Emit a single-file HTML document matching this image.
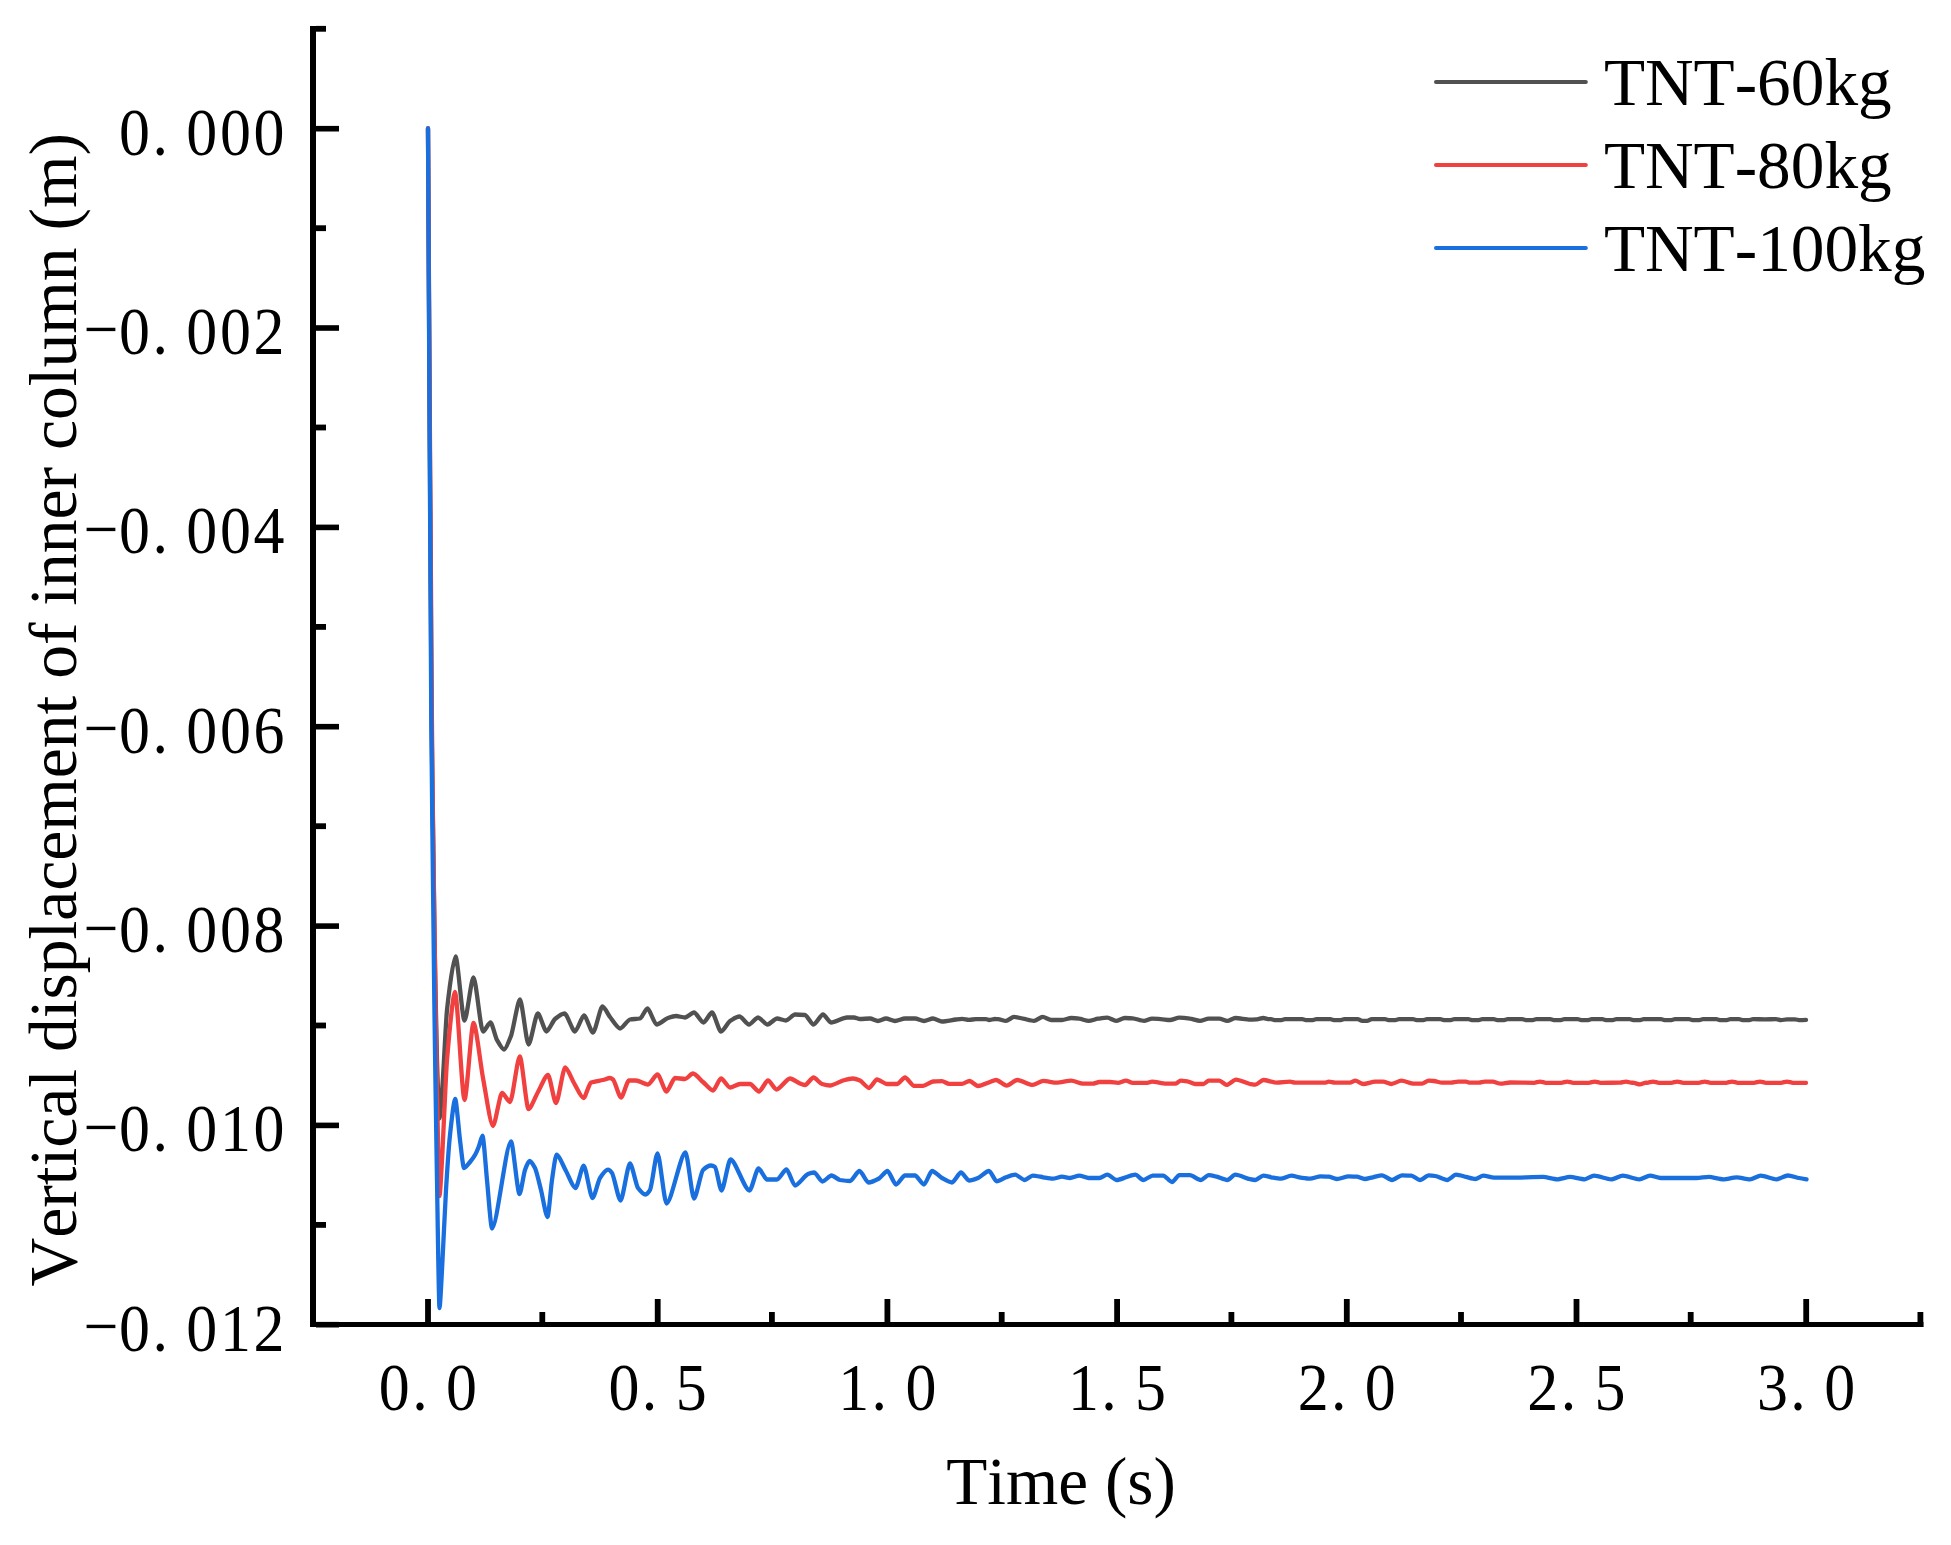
<!DOCTYPE html>
<html lang="en"><head><meta charset="utf-8"><title>Vertical displacement of inner column</title>
<style>
html,body{margin:0;padding:0;background:#fff;}
body{width:1951px;height:1545px;overflow:hidden;}
svg{display:block;}
text{font-family:"Liberation Serif",serif;fill:#000;font-kerning:none;}
.tk{font-size:68px;}
.lb{font-size:68px;}
</style></head><body>
<svg width="1951" height="1545" viewBox="0 0 1951 1545">
<rect width="1951" height="1545" fill="#fff"/>
<g id="curves">
<path d="M428.0 128.5C428.9 276.4 430.7 628.7 431.6 720.0C432.4 796.1 433.9 895.4 434.6 940.0C435.2 975.7 436.4 1040.9 437.0 1060.0C437.6 1079.9 438.9 1118.5 439.5 1118.5C440.2 1118.5 441.8 1095.0 442.5 1085.0C443.6 1070.0 445.9 1020.3 447.0 1010.0C449.1 990.6 453.4 956.5 455.5 956.5C457.8 956.5 462.2 1020.5 464.5 1020.5C466.8 1020.5 471.2 977.5 473.5 977.5C475.9 977.5 480.6 1031.5 483.0 1031.5C484.9 1031.5 488.6 1022.5 490.5 1022.5C492.1 1022.5 495.4 1037.1 497.0 1040.0C498.8 1043.2 502.2 1049.5 504.0 1049.5C505.8 1049.5 509.2 1040.6 511.0 1036.0C513.2 1030.1 517.8 999.5 520.0 999.5C522.1 999.5 526.4 1044.5 528.5 1044.5C530.8 1044.5 535.5 1013.5 537.8 1013.5C540.0 1013.5 544.3 1031.5 546.5 1031.5C548.6 1031.5 552.9 1020.8 555.0 1019.0C557.4 1017.0 562.1 1013.5 564.5 1013.5C567.1 1013.5 572.4 1031.5 575.0 1031.5C577.2 1031.5 581.8 1015.5 584.0 1015.5C586.2 1015.5 590.8 1032.5 593.0 1032.5C595.4 1032.5 600.1 1006.5 602.5 1006.5C604.4 1006.5 608.1 1014.6 610.0 1017.0C612.5 1020.2 617.5 1028.5 620.0 1028.5C622.5 1028.5 627.5 1020.0 630.0 1019.5C632.5 1019.0 637.5 1019.0 640.0 1018.5C641.9 1018.2 645.6 1008.5 647.5 1008.5C649.8 1008.5 654.2 1024.5 656.5 1024.5C659.4 1024.5 665.1 1019.0 668.0 1018.0C670.0 1017.3 674.0 1016.0 676.0 1016.0C678.2 1016.0 682.8 1017.5 685.0 1017.5C687.2 1017.5 691.8 1012.5 694.0 1012.5C696.4 1012.5 701.1 1022.5 703.5 1022.5C705.6 1022.5 709.9 1012.5 712.0 1012.5C714.2 1012.5 718.8 1031.5 721.0 1031.5C723.2 1031.5 727.8 1022.5 730.0 1021.0C732.4 1019.4 737.1 1016.5 739.5 1016.5C741.9 1016.5 746.6 1024.5 749.0 1024.5C751.2 1024.5 755.8 1017.5 758.0 1017.5C760.4 1017.5 765.1 1024.5 767.5 1024.5C769.9 1024.5 774.6 1018.5 777.0 1018.5C779.2 1018.5 783.8 1020.5 786.0 1020.5C788.2 1020.5 792.8 1014.5 795.0 1014.5C797.5 1014.5 802.5 1014.8 805.0 1015.0C807.1 1015.2 811.4 1024.5 813.5 1024.5C815.9 1024.5 820.6 1014.5 823.0 1014.5C825.0 1014.5 829.0 1022.5 831.0 1022.5C835.0 1022.5 843.0 1017.5 847.0 1017.5C848.8 1017.5 852.2 1017.5 854.0 1017.5C855.5 1017.5 858.5 1019.0 860.0 1019.0C862.5 1019.0 867.5 1018.5 870.0 1018.5C872.0 1018.5 876.0 1021.0 878.0 1021.0C880.0 1021.0 884.0 1018.5 886.0 1018.5C888.2 1018.5 892.8 1021.0 895.0 1021.0C897.5 1021.0 902.5 1018.5 905.0 1018.5C907.5 1018.5 912.5 1018.5 915.0 1018.5C917.2 1018.5 921.8 1021.0 924.0 1021.0C926.2 1021.0 930.8 1018.5 933.0 1018.5C935.2 1018.5 939.8 1021.5 942.0 1021.5C945.5 1021.5 952.5 1019.9 956.0 1019.5C957.5 1019.3 960.5 1018.8 962.0 1018.8C963.8 1018.8 967.2 1019.8 969.0 1019.8C970.8 1019.8 974.2 1019.2 976.0 1019.2C978.5 1019.2 983.5 1019.2 986.0 1019.2C986.8 1019.2 988.2 1020.0 989.0 1020.0C990.5 1020.0 993.5 1019.0 995.0 1019.0C995.8 1019.0 997.2 1019.1 998.0 1019.1C1000.0 1019.2 1004.0 1020.9 1006.0 1020.9C1008.0 1020.9 1012.0 1016.9 1014.0 1016.9C1016.3 1016.9 1021.0 1018.2 1023.3 1018.7C1026.0 1019.2 1031.3 1020.9 1034.0 1020.9C1036.2 1020.9 1040.5 1016.9 1042.7 1016.9C1044.8 1016.9 1049.2 1020.0 1051.3 1020.0C1054.0 1020.0 1059.3 1020.0 1062.0 1020.0C1064.3 1020.0 1069.0 1018.0 1071.3 1018.0C1073.3 1018.0 1077.3 1018.4 1079.3 1018.7C1081.7 1019.0 1086.3 1020.9 1088.7 1020.9C1091.0 1020.9 1095.7 1019.0 1098.0 1018.7C1100.3 1018.4 1105.0 1017.7 1107.3 1017.7C1109.5 1017.7 1113.8 1020.9 1116.0 1020.9C1118.2 1020.9 1122.5 1018.0 1124.7 1018.0C1126.7 1018.0 1130.7 1018.2 1132.7 1018.3C1135.5 1018.5 1141.2 1020.9 1144.0 1020.9C1146.0 1020.9 1150.0 1018.7 1152.0 1018.7C1154.2 1018.7 1158.5 1019.0 1160.7 1019.1C1163.0 1019.2 1167.7 1020.0 1170.0 1020.0C1172.3 1020.0 1177.0 1017.7 1179.3 1017.7C1182.0 1017.7 1187.3 1018.3 1190.0 1018.7C1192.5 1019.0 1197.5 1020.9 1200.0 1020.9C1202.2 1020.9 1206.5 1018.7 1208.7 1018.7C1211.3 1018.7 1216.7 1018.7 1219.3 1018.7C1221.3 1018.7 1225.3 1020.9 1227.3 1020.9C1229.3 1020.9 1233.3 1018.0 1235.3 1018.0C1239.0 1018.0 1246.3 1019.6 1250.0 1019.6C1251.8 1019.6 1255.2 1019.4 1257.0 1019.3C1258.6 1019.2 1261.7 1018.0 1263.3 1018.0C1264.7 1018.0 1267.6 1019.2 1269.0 1019.2C1269.5 1019.2 1270.5 1019.2 1271.0 1019.2C1272.1 1019.2 1274.4 1020.2 1275.5 1020.2C1276.8 1020.2 1279.2 1020.2 1280.5 1020.2C1281.6 1020.2 1283.9 1019.2 1285.0 1019.2C1289.3 1019.2 1298.0 1019.2 1302.3 1019.2C1303.4 1019.2 1305.7 1020.2 1306.8 1020.2C1308.0 1020.2 1310.5 1020.2 1311.8 1020.2C1312.9 1020.2 1315.2 1019.2 1316.3 1019.2C1319.8 1019.2 1326.8 1019.2 1330.3 1019.2C1331.4 1019.2 1333.7 1020.2 1334.8 1020.2C1336.0 1020.2 1338.5 1020.2 1339.8 1020.2C1340.9 1020.2 1343.2 1019.2 1344.3 1019.2C1347.7 1019.2 1354.3 1019.2 1357.7 1019.2C1358.8 1019.2 1361.1 1020.8 1362.2 1020.8C1363.5 1020.8 1366.0 1020.8 1367.2 1020.8C1368.3 1020.8 1370.6 1019.2 1371.7 1019.2C1375.0 1019.2 1381.7 1019.2 1385.0 1019.2C1386.1 1019.2 1388.4 1020.2 1389.5 1020.2C1390.8 1020.2 1393.2 1020.2 1394.5 1020.2C1395.6 1020.2 1397.9 1019.2 1399.0 1019.2C1402.5 1019.2 1409.5 1019.2 1413.0 1019.2C1414.1 1019.2 1416.4 1020.2 1417.5 1020.2C1418.8 1020.2 1421.2 1020.2 1422.5 1020.2C1423.6 1020.2 1425.9 1019.2 1427.0 1019.2C1430.3 1019.2 1437.0 1019.2 1440.3 1019.2C1441.4 1019.2 1443.7 1020.2 1444.8 1020.2C1446.0 1020.2 1448.5 1020.2 1449.8 1020.2C1450.9 1020.2 1453.2 1019.2 1454.3 1019.2C1457.8 1019.2 1464.8 1019.2 1468.3 1019.2C1469.4 1019.2 1471.7 1020.2 1472.8 1020.2C1474.0 1020.2 1476.5 1020.2 1477.8 1020.2C1478.9 1020.2 1481.2 1019.2 1482.3 1019.2C1485.2 1019.2 1490.8 1019.2 1493.7 1019.2C1494.8 1019.2 1497.1 1020.2 1498.2 1020.2C1499.5 1020.2 1502.0 1020.2 1503.2 1020.2C1504.3 1020.2 1506.6 1019.2 1507.7 1019.2C1511.3 1019.2 1518.7 1019.2 1522.3 1019.2C1523.4 1019.2 1525.7 1020.2 1526.8 1020.2C1528.0 1020.2 1530.5 1020.2 1531.8 1020.2C1532.9 1020.2 1535.2 1019.2 1536.3 1019.2C1539.8 1019.2 1546.8 1019.2 1550.3 1019.2C1551.4 1019.2 1553.7 1020.2 1554.8 1020.2C1556.0 1020.2 1558.5 1020.2 1559.8 1020.2C1560.9 1020.2 1563.2 1019.2 1564.3 1019.2C1567.7 1019.2 1574.3 1019.2 1577.7 1019.2C1578.8 1019.2 1581.1 1020.2 1582.2 1020.2C1583.5 1020.2 1586.0 1020.2 1587.2 1020.2C1588.3 1020.2 1590.6 1019.2 1591.7 1019.2C1594.3 1019.2 1599.7 1019.2 1602.3 1019.2C1603.4 1019.2 1605.7 1020.2 1606.8 1020.2C1608.0 1020.2 1610.5 1020.2 1611.8 1020.2C1612.9 1020.2 1615.2 1019.2 1616.3 1019.2C1619.7 1019.2 1626.3 1019.2 1629.7 1019.2C1630.8 1019.2 1633.1 1020.2 1634.2 1020.2C1635.5 1020.2 1638.0 1020.2 1639.2 1020.2C1640.3 1020.2 1642.6 1019.2 1643.7 1019.2C1648.0 1019.2 1656.7 1019.2 1661.0 1019.2C1662.1 1019.2 1664.4 1020.2 1665.5 1020.2C1666.8 1020.2 1669.2 1020.2 1670.5 1020.2C1671.6 1020.2 1673.9 1019.2 1675.0 1019.2C1678.5 1019.2 1685.5 1019.2 1689.0 1019.2C1690.1 1019.2 1692.4 1020.2 1693.5 1020.2C1694.8 1020.2 1697.2 1020.2 1698.5 1020.2C1699.6 1020.2 1701.9 1019.2 1703.0 1019.2C1706.3 1019.2 1713.0 1019.2 1716.3 1019.2C1717.4 1019.2 1719.7 1020.2 1720.8 1020.2C1722.0 1020.2 1724.5 1020.2 1725.8 1020.2C1726.9 1020.2 1729.2 1019.2 1730.3 1019.2C1732.5 1019.2 1736.8 1019.2 1739.0 1019.2C1740.1 1019.2 1742.4 1020.2 1743.5 1020.2C1744.8 1020.2 1747.2 1020.2 1748.5 1020.2C1749.6 1020.2 1751.9 1019.2 1753.0 1019.2C1756.0 1019.2 1762.0 1019.3 1765.0 1019.3C1767.8 1019.3 1773.2 1019.2 1776.0 1019.2C1777.2 1019.2 1779.8 1020.2 1781.0 1020.2C1782.5 1020.2 1785.5 1019.3 1787.0 1019.3C1789.0 1019.3 1793.0 1019.3 1795.0 1019.3C1796.2 1019.3 1798.8 1020.2 1800.0 1020.2C1801.5 1020.2 1804.5 1020.0 1806.0 1019.9" fill="none" stroke="#515151" stroke-width="4.3" stroke-linejoin="round" stroke-linecap="round"/>
<path d="M428.0 128.5C429.0 276.4 430.9 617.9 431.9 720.0C432.6 798.6 434.1 908.1 434.9 960.0C435.5 999.8 436.6 1071.5 437.2 1100.0C437.8 1128.5 438.9 1196.0 439.5 1196.0C440.1 1196.0 441.4 1170.5 442.0 1160.0C443.2 1139.1 445.8 1074.9 447.0 1060.0C449.0 1036.1 453.0 992.0 455.0 992.0C457.4 992.0 462.1 1100.0 464.5 1100.0C466.8 1100.0 471.2 1023.0 473.5 1023.0C475.9 1023.0 480.6 1065.5 483.0 1078.0C485.5 1091.1 490.5 1126.0 493.0 1126.0C495.2 1126.0 499.8 1093.0 502.0 1093.0C504.0 1093.0 508.0 1102.0 510.0 1102.0C512.5 1102.0 517.3 1056.5 519.8 1056.5C522.0 1056.5 526.3 1109.0 528.5 1109.0C530.9 1109.0 535.6 1096.1 538.0 1092.0C540.5 1087.6 545.5 1075.0 548.0 1075.0C550.0 1075.0 554.0 1103.0 556.0 1103.0C558.3 1103.0 562.9 1067.5 565.2 1067.5C567.4 1067.5 571.8 1079.3 574.0 1083.0C576.4 1087.0 581.1 1098.0 583.5 1098.0C585.4 1098.0 589.1 1083.2 591.0 1082.5C594.0 1081.4 600.0 1080.7 603.0 1080.0C604.8 1079.6 608.2 1078.0 610.0 1078.0C610.8 1078.0 612.2 1078.9 613.0 1079.5C615.0 1081.1 619.0 1097.5 621.0 1097.5C623.0 1097.5 627.0 1080.5 629.0 1080.5C630.8 1080.5 634.2 1080.5 636.0 1080.5C639.0 1080.5 645.0 1084.5 648.0 1084.5C650.4 1084.5 655.1 1074.5 657.5 1074.5C659.8 1074.5 664.2 1091.5 666.5 1091.5C668.6 1091.5 672.9 1078.0 675.0 1078.0C677.5 1078.0 682.5 1079.0 685.0 1079.0C687.0 1079.0 691.0 1073.5 693.0 1073.5C695.5 1073.5 700.5 1079.9 703.0 1082.0C705.5 1084.1 710.5 1090.5 713.0 1090.5C715.0 1090.5 719.0 1078.5 721.0 1078.5C723.2 1078.5 727.8 1087.5 730.0 1087.5C732.5 1087.5 737.5 1084.0 740.0 1084.0C742.5 1084.0 747.5 1084.0 750.0 1084.0C752.2 1084.0 756.8 1091.5 759.0 1091.5C761.2 1091.5 765.8 1080.5 768.0 1080.5C770.1 1080.5 774.4 1089.5 776.5 1089.5C779.9 1089.5 786.6 1078.5 790.0 1078.5C792.5 1078.5 797.5 1082.6 800.0 1083.5C801.2 1084.0 803.8 1085.0 805.0 1085.0C807.1 1085.0 811.4 1077.5 813.5 1077.5C815.6 1077.5 819.9 1083.4 822.0 1084.0C824.0 1084.6 828.0 1085.5 830.0 1085.5C833.2 1085.5 839.8 1081.4 843.0 1080.5C845.5 1079.8 850.5 1078.5 853.0 1078.5C854.8 1078.5 858.2 1079.8 860.0 1080.5C862.2 1081.5 866.8 1088.0 869.0 1088.0C871.0 1088.0 875.0 1079.5 877.0 1079.5C879.5 1079.5 884.5 1084.0 887.0 1084.0C889.5 1084.0 894.5 1084.0 897.0 1084.0C899.0 1084.0 903.0 1077.5 905.0 1077.5C907.2 1077.5 911.8 1085.8 914.0 1085.8C916.2 1085.8 920.8 1085.8 923.0 1085.8C925.5 1085.8 930.5 1081.7 933.0 1081.5C935.2 1081.4 939.8 1081.2 942.0 1081.2C943.8 1081.2 947.2 1083.8 949.0 1083.8C952.2 1083.8 958.8 1083.8 962.0 1083.8C963.9 1083.8 967.6 1081.0 969.5 1081.0C971.6 1081.0 975.9 1086.0 978.0 1086.0C981.0 1086.0 987.0 1083.0 990.0 1082.0C991.5 1081.5 994.5 1080.0 996.0 1080.0C998.7 1080.0 1004.0 1085.7 1006.7 1085.7C1009.4 1085.7 1014.6 1080.0 1017.3 1080.0C1021.1 1080.0 1028.8 1084.9 1032.7 1084.9C1035.3 1084.9 1040.7 1080.9 1043.3 1080.9C1046.7 1080.9 1053.3 1082.7 1056.7 1082.7C1060.3 1082.7 1067.7 1080.7 1071.3 1080.7C1074.3 1080.7 1080.3 1083.7 1083.3 1083.7C1085.7 1083.7 1090.3 1083.7 1092.7 1083.7C1094.3 1083.7 1097.7 1082.0 1099.3 1082.0C1102.0 1082.0 1107.3 1082.0 1110.0 1082.0C1112.0 1082.0 1116.0 1082.9 1118.0 1082.9C1120.0 1082.9 1124.0 1080.7 1126.0 1080.7C1127.7 1080.7 1131.0 1082.9 1132.7 1082.9C1136.3 1082.9 1143.7 1082.9 1147.3 1082.9C1148.5 1082.9 1150.8 1081.7 1152.0 1081.7C1155.5 1081.7 1162.5 1083.7 1166.0 1083.7C1168.3 1083.7 1173.0 1083.7 1175.3 1083.7C1176.7 1083.7 1179.3 1080.7 1180.7 1080.7C1182.3 1080.7 1185.7 1081.1 1187.3 1081.3C1189.3 1081.6 1193.3 1084.0 1195.3 1084.0C1197.3 1084.0 1201.3 1084.0 1203.3 1084.0C1204.7 1084.0 1207.3 1080.7 1208.7 1080.7C1211.3 1080.7 1216.7 1080.7 1219.3 1080.7C1221.2 1080.7 1224.8 1084.9 1226.7 1084.9C1229.0 1084.9 1233.7 1079.6 1236.0 1079.6C1239.5 1079.6 1246.5 1083.3 1250.0 1084.0C1251.3 1084.2 1254.0 1084.7 1255.3 1084.7C1257.3 1084.7 1261.3 1080.0 1263.3 1080.0C1266.7 1080.0 1273.3 1082.7 1276.7 1082.7C1280.0 1082.7 1286.7 1081.7 1290.0 1081.7C1291.2 1081.7 1293.8 1082.7 1295.0 1082.7C1302.4 1082.7 1317.3 1082.7 1324.7 1082.7C1325.7 1082.7 1327.7 1081.7 1328.7 1081.7C1330.3 1081.7 1333.4 1082.7 1335.0 1082.7C1338.8 1082.7 1346.2 1082.7 1350.0 1082.7C1351.3 1082.7 1354.0 1080.7 1355.3 1080.7C1357.3 1080.7 1361.3 1084.0 1363.3 1084.0C1366.3 1084.0 1372.3 1081.7 1375.3 1081.7C1377.2 1081.7 1381.1 1081.7 1383.0 1081.7C1385.1 1081.7 1389.2 1084.0 1391.3 1084.0C1393.8 1084.0 1398.8 1080.7 1401.3 1080.7C1404.5 1080.7 1410.8 1083.7 1414.0 1083.7C1416.0 1083.7 1420.0 1083.7 1422.0 1083.7C1423.7 1083.7 1427.0 1080.7 1428.7 1080.7C1430.0 1080.7 1432.7 1080.9 1434.0 1081.0C1436.0 1081.2 1440.0 1082.7 1442.0 1082.7C1444.2 1082.7 1448.8 1082.7 1451.0 1082.7C1452.8 1082.7 1456.2 1081.7 1458.0 1081.7C1460.0 1081.7 1464.0 1081.7 1466.0 1081.7C1467.0 1081.7 1469.0 1082.7 1470.0 1082.7C1472.2 1082.7 1476.8 1082.7 1479.0 1082.7C1480.4 1082.7 1483.3 1081.7 1484.7 1081.7C1486.7 1081.7 1490.7 1081.7 1492.7 1081.7C1494.7 1081.7 1498.7 1083.7 1500.7 1083.7C1503.0 1083.7 1507.7 1082.5 1510.0 1082.5C1516.0 1082.5 1528.0 1082.8 1534.0 1082.8C1535.5 1082.8 1538.5 1081.6 1540.0 1081.6C1541.5 1081.6 1544.5 1082.8 1546.0 1082.8C1549.8 1082.8 1557.5 1082.8 1561.3 1082.8C1562.8 1082.8 1565.8 1081.6 1567.3 1081.6C1568.8 1081.6 1571.8 1082.8 1573.3 1082.8C1577.2 1082.8 1584.8 1082.8 1588.7 1082.8C1590.2 1082.8 1593.2 1081.6 1594.7 1081.6C1596.2 1081.6 1599.2 1082.8 1600.7 1082.8C1605.5 1082.8 1615.2 1082.7 1620.0 1082.6C1621.5 1082.6 1624.5 1081.6 1626.0 1081.6C1627.2 1081.6 1629.8 1082.4 1631.0 1082.6C1631.8 1082.7 1633.2 1082.8 1634.0 1082.9C1635.5 1083.1 1638.5 1084.4 1640.0 1084.4C1641.5 1084.4 1644.5 1082.7 1646.0 1082.7C1646.2 1082.7 1646.8 1082.8 1647.0 1082.8C1648.5 1082.8 1651.5 1081.6 1653.0 1081.6C1654.5 1081.6 1657.5 1082.8 1659.0 1082.8C1662.1 1082.8 1668.2 1082.8 1671.3 1082.8C1672.8 1082.8 1675.8 1081.6 1677.3 1081.6C1678.8 1081.6 1681.8 1082.8 1683.3 1082.8C1687.2 1082.8 1694.8 1082.8 1698.7 1082.8C1700.2 1082.8 1703.2 1081.6 1704.7 1081.6C1706.2 1081.6 1709.2 1082.8 1710.7 1082.8C1714.5 1082.8 1722.2 1082.8 1726.0 1082.8C1727.5 1082.8 1730.5 1081.6 1732.0 1081.6C1733.5 1081.6 1736.5 1082.8 1738.0 1082.8C1742.0 1082.8 1750.0 1082.8 1754.0 1082.8C1755.5 1082.8 1758.5 1081.6 1760.0 1081.6C1761.5 1081.6 1764.5 1082.8 1766.0 1082.8C1769.8 1082.8 1777.2 1082.8 1781.0 1082.8C1782.5 1082.8 1785.5 1081.6 1787.0 1081.6C1788.5 1081.6 1791.5 1082.8 1793.0 1082.8C1794.8 1082.8 1798.2 1082.9 1800.0 1082.9C1801.5 1082.9 1804.5 1082.9 1806.0 1082.9" fill="none" stroke="#F14040" stroke-width="4.3" stroke-linejoin="round" stroke-linecap="round"/>
<path d="M428.0 128.5C428.8 276.4 430.5 618.7 431.3 720.0C432.1 812.1 433.6 941.7 434.3 1000.0C435.0 1052.5 436.3 1140.9 437.0 1180.0C437.6 1216.2 438.9 1308.0 439.5 1308.0C440.1 1308.0 441.4 1280.8 442.0 1270.0C443.0 1252.7 445.0 1206.3 446.0 1190.0C447.0 1173.7 449.0 1144.2 450.0 1135.0C451.3 1123.0 453.9 1099.0 455.2 1099.0C456.4 1099.0 458.8 1130.8 460.0 1140.0C461.0 1147.7 463.0 1168.0 464.0 1168.0C465.5 1168.0 468.5 1163.8 470.0 1162.0C471.2 1160.5 473.8 1157.2 475.0 1155.0C476.0 1153.3 478.0 1148.6 479.0 1146.0C479.9 1143.8 481.6 1135.7 482.5 1135.7C483.6 1135.7 485.9 1169.0 487.0 1180.0C488.2 1192.2 490.8 1228.5 492.0 1228.5C496.8 1228.5 506.2 1141.5 511.0 1141.5C513.1 1141.5 517.4 1194.0 519.5 1194.0C520.9 1194.0 523.6 1173.8 525.0 1170.0C526.1 1166.9 528.4 1161.0 529.5 1161.0C530.9 1161.0 533.6 1165.4 535.0 1168.0C536.5 1170.8 539.5 1184.2 541.0 1190.0C542.6 1196.3 545.9 1217.0 547.5 1217.0C548.6 1217.0 550.9 1187.5 552.0 1180.0C553.1 1172.5 555.4 1154.7 556.5 1154.7C558.9 1154.7 563.6 1166.8 566.0 1171.0C568.4 1175.2 573.1 1188.0 575.5 1188.0C577.5 1188.0 581.7 1165.7 583.7 1165.7C585.9 1165.7 590.3 1198.0 592.5 1198.0C594.4 1198.0 598.1 1180.8 600.0 1178.0C602.0 1175.0 606.0 1169.7 608.0 1169.7C609.0 1169.7 611.0 1171.7 612.0 1173.0C614.1 1175.8 618.4 1200.5 620.5 1200.5C622.9 1200.5 627.6 1163.5 630.0 1163.5C632.0 1163.5 636.0 1185.3 638.0 1188.0C639.9 1190.5 643.6 1194.5 645.5 1194.5C646.6 1194.5 648.9 1191.9 650.0 1190.0C651.9 1186.9 655.6 1153.5 657.5 1153.5C659.8 1153.5 664.2 1203.5 666.5 1203.5C671.2 1203.5 680.8 1152.5 685.5 1152.5C687.6 1152.5 691.9 1198.5 694.0 1198.5C696.2 1198.5 700.8 1172.1 703.0 1170.0C705.0 1168.1 709.0 1165.5 711.0 1165.5C712.0 1165.5 714.0 1166.3 715.0 1167.0C716.6 1168.1 719.9 1190.5 721.5 1190.5C723.8 1190.5 728.2 1159.5 730.5 1159.5C735.2 1159.5 744.8 1190.5 749.5 1190.5C751.8 1190.5 756.2 1168.5 758.5 1168.5C760.6 1168.5 764.9 1179.5 767.0 1179.5C769.5 1179.5 774.5 1179.5 777.0 1179.5C779.4 1179.5 784.1 1169.5 786.5 1169.5C788.6 1169.5 792.9 1185.5 795.0 1185.5C798.2 1185.5 804.8 1175.3 808.0 1174.0C809.5 1173.4 812.5 1172.5 814.0 1172.5C816.1 1172.5 820.4 1181.5 822.5 1181.5C824.8 1181.5 829.2 1175.5 831.5 1175.5C833.6 1175.5 837.9 1179.6 840.0 1180.0C842.5 1180.4 847.5 1181.0 850.0 1181.0C852.4 1181.0 857.1 1171.0 859.5 1171.0C861.8 1171.0 866.2 1182.5 868.5 1182.5C871.1 1182.5 876.4 1179.9 879.0 1178.5C881.1 1177.4 885.4 1171.0 887.5 1171.0C889.6 1171.0 893.9 1184.5 896.0 1184.5C898.2 1184.5 902.8 1175.5 905.0 1175.5C907.5 1175.5 912.5 1175.5 915.0 1175.5C917.2 1175.5 921.8 1184.5 924.0 1184.5C926.0 1184.5 930.0 1171.0 932.0 1171.0C934.5 1171.0 939.5 1176.6 942.0 1178.0C944.5 1179.4 949.5 1182.5 952.0 1182.5C954.2 1182.5 958.8 1172.5 961.0 1172.5C963.0 1172.5 967.0 1180.5 969.0 1180.5C971.2 1180.5 975.8 1178.9 978.0 1178.0C980.8 1176.9 986.2 1171.0 989.0 1171.0C990.9 1171.0 994.8 1181.3 996.7 1181.3C999.0 1181.3 1003.7 1178.1 1006.0 1177.3C1008.3 1176.5 1013.0 1174.7 1015.3 1174.7C1017.6 1174.7 1022.4 1180.0 1024.7 1180.0C1026.7 1180.0 1030.7 1175.6 1032.7 1175.6C1035.3 1175.6 1040.7 1176.9 1043.3 1177.3C1045.7 1177.7 1050.3 1178.7 1052.7 1178.7C1055.0 1178.7 1059.7 1176.7 1062.0 1176.7C1064.0 1176.7 1068.0 1178.0 1070.0 1178.0C1072.3 1178.0 1077.0 1175.6 1079.3 1175.6C1081.7 1175.6 1086.3 1178.0 1088.7 1178.0C1091.3 1178.0 1096.7 1178.0 1099.3 1178.0C1101.3 1178.0 1105.3 1174.7 1107.3 1174.7C1109.7 1174.7 1114.3 1180.0 1116.7 1180.0C1119.0 1180.0 1123.7 1178.0 1126.0 1177.3C1128.3 1176.6 1133.0 1174.7 1135.3 1174.7C1137.3 1174.7 1141.3 1180.0 1143.3 1180.0C1145.7 1180.0 1150.3 1175.6 1152.7 1175.6C1155.3 1175.6 1160.7 1175.6 1163.3 1175.6C1165.5 1175.6 1169.8 1182.0 1172.0 1182.0C1173.8 1182.0 1177.5 1175.1 1179.3 1175.1C1182.0 1175.1 1187.3 1175.1 1190.0 1175.1C1192.7 1175.1 1198.0 1180.0 1200.7 1180.0C1202.7 1180.0 1206.7 1175.1 1208.7 1175.1C1210.7 1175.1 1214.7 1176.2 1216.7 1176.7C1219.3 1177.3 1224.7 1180.0 1227.3 1180.0C1229.3 1180.0 1233.3 1174.7 1235.3 1174.7C1239.0 1174.7 1246.3 1178.5 1250.0 1179.2C1251.3 1179.5 1254.0 1180.0 1255.3 1180.0C1257.3 1180.0 1261.3 1175.6 1263.3 1175.6C1265.3 1175.6 1269.3 1176.9 1271.3 1177.3C1273.7 1177.7 1278.3 1178.7 1280.7 1178.7C1283.3 1178.7 1288.7 1175.6 1291.3 1175.6C1293.7 1175.6 1298.3 1177.4 1300.7 1177.7C1303.0 1178.0 1307.7 1178.7 1310.0 1178.7C1312.7 1178.7 1318.0 1176.4 1320.7 1176.4C1322.7 1176.4 1326.7 1176.6 1328.7 1176.7C1330.7 1176.8 1334.7 1179.0 1336.7 1179.0C1339.7 1179.0 1345.7 1176.4 1348.7 1176.4C1350.7 1176.4 1354.7 1176.6 1356.7 1176.7C1358.7 1176.8 1362.7 1179.0 1364.7 1179.0C1366.7 1179.0 1370.7 1177.7 1372.7 1177.3C1375.0 1176.8 1379.7 1175.3 1382.0 1175.3C1384.5 1175.3 1389.5 1180.0 1392.0 1180.0C1394.5 1180.0 1399.5 1175.3 1402.0 1175.3C1404.3 1175.3 1409.0 1175.5 1411.3 1175.6C1413.5 1175.7 1417.8 1180.0 1420.0 1180.0C1422.2 1180.0 1426.5 1175.3 1428.7 1175.3C1430.3 1175.3 1433.7 1175.7 1435.3 1176.0C1438.3 1176.5 1444.3 1180.0 1447.3 1180.0C1449.5 1180.0 1453.8 1174.7 1456.0 1174.7C1458.5 1174.7 1463.5 1176.3 1466.0 1176.9C1468.3 1177.4 1473.0 1179.0 1475.3 1179.0C1477.3 1179.0 1481.3 1175.6 1483.3 1175.6C1486.0 1175.6 1491.3 1177.7 1494.0 1177.7C1498.0 1177.7 1506.0 1177.7 1510.0 1177.7C1518.2 1177.7 1534.8 1176.9 1543.0 1176.9C1546.6 1176.9 1553.7 1179.3 1557.3 1179.3C1560.5 1179.3 1566.8 1176.9 1570.0 1176.9C1573.7 1176.9 1581.0 1179.3 1584.7 1179.3C1587.0 1179.3 1591.7 1175.6 1594.0 1175.6C1598.3 1175.6 1607.0 1179.3 1611.3 1179.3C1614.2 1179.3 1619.8 1175.6 1622.7 1175.6C1626.8 1175.6 1635.2 1179.3 1639.3 1179.3C1642.0 1179.3 1647.3 1175.6 1650.0 1175.6C1652.7 1175.6 1658.0 1178.0 1660.7 1178.0C1669.7 1178.0 1687.7 1178.0 1696.7 1178.0C1699.7 1178.0 1705.7 1176.9 1708.7 1176.9C1712.3 1176.9 1719.7 1179.3 1723.3 1179.3C1726.7 1179.3 1733.3 1177.3 1736.7 1177.3C1740.0 1177.3 1746.7 1179.3 1750.0 1179.3C1752.7 1179.3 1758.0 1175.6 1760.7 1175.6C1764.7 1175.6 1772.6 1179.3 1776.6 1179.3C1779.4 1179.3 1785.0 1175.5 1787.8 1175.5C1790.6 1175.5 1796.2 1177.5 1799.0 1178.0C1800.9 1178.4 1804.6 1179.0 1806.5 1179.3" fill="none" stroke="#1A6FDF" stroke-width="4.3" stroke-linejoin="round" stroke-linecap="round"/>
</g>
<g id="axes" fill="#000"><rect x="310" y="26" width="6" height="1301"/><rect x="310" y="1322" width="1613.6" height="5"/><rect x="316" y="1321.9" width="23" height="5.6"/><rect x="316" y="1222.0" width="10" height="5.8"/><rect x="316" y="1122.6" width="23" height="5.6"/><rect x="316" y="1022.6" width="10" height="5.8"/><rect x="316" y="923.3" width="23" height="5.6"/><rect x="316" y="823.3" width="10" height="5.8"/><rect x="316" y="723.9" width="23" height="5.6"/><rect x="316" y="624.0" width="10" height="5.8"/><rect x="316" y="524.6" width="23" height="5.6"/><rect x="316" y="424.6" width="10" height="5.8"/><rect x="316" y="325.2" width="23" height="5.6"/><rect x="316" y="225.3" width="10" height="5.8"/><rect x="316" y="125.9" width="23" height="5.6"/><rect x="316" y="25.9" width="10" height="5.8"/><rect x="425.1" y="1299" width="5.8" height="23"/><rect x="539.4" y="1312" width="5.8" height="10"/><rect x="654.8" y="1299" width="5.8" height="23"/><rect x="769.0" y="1312" width="5.8" height="10"/><rect x="884.5" y="1299" width="5.8" height="23"/><rect x="998.8" y="1312" width="5.8" height="10"/><rect x="1114.2" y="1299" width="5.8" height="23"/><rect x="1228.5" y="1312" width="5.8" height="10"/><rect x="1343.9" y="1299" width="5.8" height="23"/><rect x="1458.1" y="1312" width="5.8" height="10"/><rect x="1573.6" y="1299" width="5.8" height="23"/><rect x="1687.8" y="1312" width="5.8" height="10"/><rect x="1803.3" y="1299" width="5.8" height="23"/><rect x="1917.5" y="1312" width="5.8" height="10"/></g>
<g id="ticklabels"><text class="tk" text-anchor="middle" transform="scale(0.91,1)" x="147.9 176.0 221.8 258.7 295.6" y="154.8">0.000</text><text class="tk" text-anchor="middle" transform="scale(0.91,1)" x="111.0 147.9 176.0 221.8 258.7 295.6" y="354.1" dy="-1.6 1.6 0 0 0 0">−0.002</text><text class="tk" text-anchor="middle" transform="scale(0.91,1)" x="111.0 147.9 176.0 221.8 258.7 295.6" y="553.5" dy="-1.6 1.6 0 0 0 0">−0.004</text><text class="tk" text-anchor="middle" transform="scale(0.91,1)" x="111.0 147.9 176.0 221.8 258.7 295.6" y="752.8" dy="-1.6 1.6 0 0 0 0">−0.006</text><text class="tk" text-anchor="middle" transform="scale(0.91,1)" x="111.0 147.9 176.0 221.8 258.7 295.6" y="952.2" dy="-1.6 1.6 0 0 0 0">−0.008</text><text class="tk" text-anchor="middle" transform="scale(0.91,1)" x="111.0 147.9 176.0 221.8 258.7 295.6" y="1151.5" dy="-1.6 1.6 0 0 0 0">−0.010</text><text class="tk" text-anchor="middle" transform="scale(0.91,1)" x="111.0 147.9 176.0 221.8 258.7 295.6" y="1350.8" dy="-1.6 1.6 0 0 0 0">−0.012</text><text class="tk" text-anchor="middle" transform="scale(0.91,1)" x="433.3 461.4 507.1" y="1410.2">0.0</text><text class="tk" text-anchor="middle" transform="scale(0.91,1)" x="685.7 713.8 759.6" y="1410.2">0.5</text><text class="tk" text-anchor="middle" transform="scale(0.91,1)" x="938.1 966.3 1012.0" y="1410.2">1.0</text><text class="tk" text-anchor="middle" transform="scale(0.91,1)" x="1190.5 1218.7 1264.4" y="1410.2">1.5</text><text class="tk" text-anchor="middle" transform="scale(0.91,1)" x="1443.0 1471.1 1516.8" y="1410.2">2.0</text><text class="tk" text-anchor="middle" transform="scale(0.91,1)" x="1695.4 1723.5 1769.2" y="1410.2">2.5</text><text class="tk" text-anchor="middle" transform="scale(0.91,1)" x="1947.8 1975.9 2021.6" y="1410.2">3.0</text></g>
<text class="lb" x="946.3" y="1504" textLength="229.5" lengthAdjust="spacingAndGlyphs">Time (s)</text>
<text class="lb" transform="translate(75.7,1286.4) rotate(-90)" textLength="1153.3" lengthAdjust="spacingAndGlyphs">Vertical displacement of inner column (m)</text>
<g id="legend"><line x1="1436" y1="82.0" x2="1585.8" y2="82.0" stroke="#515151" stroke-width="4.1" stroke-linecap="round"/><text class="lb" x="1603.9" y="105.2" textLength="287.8" lengthAdjust="spacingAndGlyphs">TNT-60kg</text><line x1="1436" y1="165.0" x2="1585.8" y2="165.0" stroke="#F14040" stroke-width="4.1" stroke-linecap="round"/><text class="lb" x="1603.9" y="188.2" textLength="287.8" lengthAdjust="spacingAndGlyphs">TNT-80kg</text><line x1="1436" y1="248.0" x2="1585.8" y2="248.0" stroke="#1A6FDF" stroke-width="4.1" stroke-linecap="round"/><text class="lb" x="1603.9" y="271.2" textLength="321.5" lengthAdjust="spacingAndGlyphs">TNT-100kg</text></g>
</svg></body></html>
